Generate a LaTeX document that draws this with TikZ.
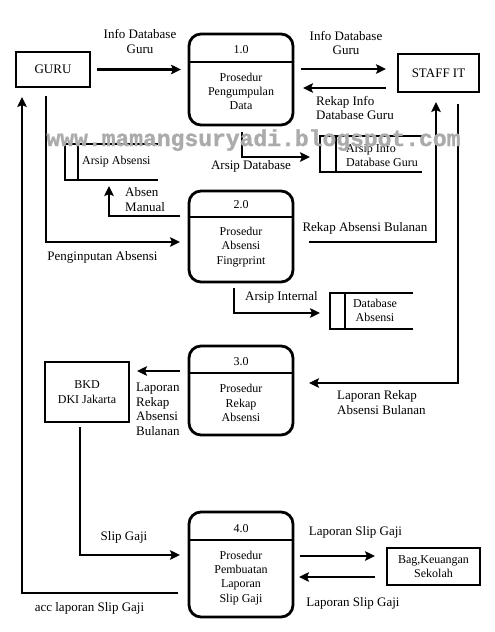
\documentclass[tikz,border=0pt]{standalone}
\usepackage{fontspec}
\setmainfont{Liberation Serif}
\newfontfamily\wmfont[FakeBold=1.2]{Liberation Mono}
\usetikzlibrary{arrows.meta,calc}
\begin{document}
\begin{tikzpicture}[x=1pt,y=-1pt,
  ln/.style={line width=2.6pt},
  div/.style={line width=2.2pt},
  flow/.style={line width=2.6pt,-{Stealth[length=10pt,width=9.5pt,inset=2pt]}},
  ent/.style={draw,line width=2.8pt,inner sep=0pt,outer sep=0pt,align=center,
    font=\fontsize{12}{14.5}\selectfont},
  proc/.style={draw,line width=2.8pt,rounded corners=12pt,inner sep=0pt,outer sep=0pt,
    minimum width=104pt},
  storebox/.style={inner sep=0pt,outer sep=0pt,minimum height=36pt},
  ptext/.style={inner sep=0pt,align=center,font=\fontsize{12}{14.2}\selectfont},
  lbl/.style={inner sep=0pt,align=center,font=\fontsize{13}{14.6}\selectfont},
  lbll/.style={inner sep=0pt,align=left,anchor=west,font=\fontsize{13}{14.6}\selectfont}
]
\fill[white] (0,0) rectangle (495,632);
\useasboundingbox (0,0) rectangle (495,632);

% external entities
\node[ent,minimum width=74pt,minimum height=35pt,font=\fontsize{13}{14.5}\selectfont] (guru) at (53,69.5) {GURU};
\node[ent,minimum width=81pt,minimum height=38pt,font=\fontsize{13}{14.5}\selectfont] (staff) at (438.5,73) {STAFF IT};
\node[ent,minimum width=84pt,minimum height=60pt] (bkd) at (87,392) {BKD\\DKI Jakarta};
\node[ent,minimum width=93pt,minimum height=37pt] (bag) at (433.5,566.5) {Bag,Keuangan\\Sekolah};

% processes
\node[proc,minimum height=91pt] (p1) at (241,79.5) {};
\draw[div] (p1.west |- 0,62) -- (p1.east |- 0,62);
\node[ptext] (p1n) at (241,50) {1.0};
\node[ptext] (p1t) at (241,91.5) {Prosedur\\Pengumpulan\\Data};

\node[proc,minimum height=91pt] (p2) at (241,236.5) {};
\draw[div] (p2.west |- 0,217) -- (p2.east |- 0,217);
\node[ptext] (p2n) at (241,205) {2.0};
\node[ptext] (p2t) at (241,247) {Prosedur\\Absensi\\Fingrprint};

\node[proc,minimum height=89pt] (p3) at (241,390.5) {};
\draw[div] (p3.west |- 0,373) -- (p3.east |- 0,373);
\node[ptext] (p3n) at (241,362) {3.0};
\node[ptext] (p3t) at (241,403) {Prosedur\\Rekap\\Absensi};

\node[proc,minimum height=105pt] (p4) at (241,564.5) {};
\draw[div] (p4.west |- 0,540) -- (p4.east |- 0,540);
\node[ptext] (p4n) at (241,529) {4.0};
\node[ptext] (p4t) at (241,578) {Prosedur\\Pembuatan\\Laporan\\Slip Gaji};

% data stores
\node[storebox,minimum width=93pt] (s1) at (111.5,162) {};
\draw[ln] (s1.north east) -- (s1.north west) -- (s1.south west) -- (s1.south east);
\draw[ln] (s1.north west -| 78,0) -- (s1.south west -| 78,0);
\node[ptext,anchor=west] (s1t) at (82,162) {Arsip Absensi};

\node[storebox,minimum width=102pt] (s2) at (371,154) {};
\draw[ln] (s2.north east) -- (s2.north west) -- (s2.south west) -- (s2.south east);
\draw[ln] (s2.north west -| 336,0) -- (s2.south west -| 336,0);
\node[ptext,anchor=west,align=left] (s2t) at (346,155) {Arsip Info\\Database Guru};

\node[storebox,minimum width=83pt] (s3) at (371.5,311) {};
\draw[ln] (s3.north east) -- (s3.north west) -- (s3.south west) -- (s3.south east);
\draw[ln] (s3.north west -| 345,0) -- (s3.south west -| 345,0);
\node[ptext] (s3t) at (375,310.5) {Database\\Absensi};

% flows
\draw[flow] ([xshift=7pt]guru.east) -- ([xshift=-8pt]guru.east -| p1.west);
\node[lbl] (l1) at (140,41.5) {Info Database\\Guru};

\draw[flow] ([xshift=8pt]p1.east |- 0,69) -- ([xshift=-12pt]staff.west |- 0,69);
\node[lbl] (l2) at (346,43) {Info Database\\Guru};

\draw[flow] ([xshift=-12pt]staff.west |- 0,88) -- ([xshift=10pt]p1.east |- 0,88);
\node[lbll] (l3) at (316,108) {Rekap Info\\Database Guru};

\draw[flow] ([yshift=-7pt]p1.south -| 242,0) |- ([xshift=-10pt]s2.west |- 0,157);
\node[lbl] (l4) at (251,166) {Arsip Database};

\draw[flow] ([xshift=-11pt]p4.west |- 0,593) -| ([yshift=-10pt]guru.south -| 22,0);
\node[lbl] (l5) at (89.5,608) {acc laporan Slip Gaji};

\draw[flow] ([yshift=-9pt]guru.south -| 46,0) |- ([xshift=-9pt]p2.west |- 0,242);
\node[lbl] (l6) at (102.5,257) {Penginputan Absensi};

\draw[flow] ([xshift=-9pt]p2.west |- 0,216) -| ([yshift=-6pt]s1.south -| 109,0);
\node[lbll] (l7) at (125,199.5) {Absen\\Manual};

\draw[flow] ([xshift=16pt]p2.east |- 0,242) -| ([yshift=-10pt]staff.south -| 436,0);
\node[lbl] (l8) at (365,228) {Rekap Absensi Bulanan};

\draw[flow] ([yshift=-12pt]staff.south -| 458,0) |- ([xshift=16pt]p3.east |- 0,383);
\node[lbll] (l9) at (337,402.5) {Laporan Rekap\\Absensi Bulanan};

\draw[flow] ([yshift=-6pt]p2.south -| 234,0) |- ([xshift=-10pt]s3.west |- 0,313);
\node[lbl] (l10) at (281.5,297) {Arsip Internal};

\draw[flow] ([xshift=-9pt]p3.west |- 0,371) -- ([xshift=8pt]bkd.east |- 0,371);
\node[lbll] (l11) at (136,409.5) {Laporan\\Rekap\\Absensi\\Bulanan};

\draw[flow] ([yshift=-5pt]bkd.south -| 80,0) |- ([xshift=-9pt]p4.west |- 0,555);
\node[lbl] (l12) at (124,537) {Slip Gaji};

\draw[flow] ([xshift=7pt]p4.east |- 0,556) -- ([xshift=-12pt]bag.west |- 0,556);
\node[lbl] (l13) at (355.5,532) {Laporan Slip Gaji};

\draw[flow] ([xshift=-12pt]bag.west |- 0,577) -- ([xshift=6pt]p4.east |- 0,577);
\node[lbl] (l14) at (353,603) {Laporan Slip Gaji};

% watermark
\node[inner sep=0pt,anchor=base,text=black!33,font=\wmfont\bfseries\fontsize{23}{23}\selectfont] (wm) at (253.5,146) {www.mamangsuryadi.blogspot.com};
\end{tikzpicture}
\end{document}
